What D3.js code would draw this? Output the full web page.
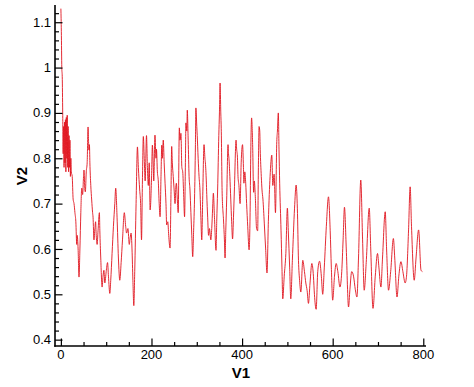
<!DOCTYPE html>
<html>
<head>
<meta charset="utf-8">
<script src="https://cdn.jsdelivr.net/npm/d3@7"></script>
<style>
  body { margin: 0; background: #fff; }
  .tick-label { font-family: "Liberation Sans", Arial, sans-serif; font-size: 13px; fill: #000; }
  .axis-title { font-family: "Liberation Sans", Arial, sans-serif; font-size: 15px; font-weight: bold; fill: #000; }
</style>
</head>
<body>
<div id="chart"></div>
<script>
// V1 positions (at peaks / troughs)
const v1 = [
  0, 1, 2, 3, 4, 5, 6, 7, 8, 9, 10, 11, 12, 13, 14, 15, 16, 17, 18, 19, 20, 21, 22, 23,
  25, 27, 29, 31, 33, 35, 36, 38, 40, 42, 44, 46, 48, 50, 51, 53, 54, 56, 58, 60, 61, 62, 63, 64,
  66, 68, 70, 71, 73, 75, 76.6, 78, 80, 82, 85, 86, 88, 91, 93, 95, 97, 100, 103, 105, 108, 110,
  113, 116, 119, 121, 124, 127, 130, 133, 136, 140, 143, 145, 148, 151, 153, 155, 157, 159, 161,
  163, 166, 169, 171, 174, 176, 178, 180, 182, 184, 186, 189, 191, 193, 195, 197, 200, 202, 204,
  205, 207.7, 210, 211, 213, 215, 217, 219, 221, 222.8, 224, 226, 228, 230, 232, 233.5, 236, 238,
  241, 243, 244.6, 246, 248, 250, 252, 254, 255, 257, 259, 261.5, 263, 265, 267, 269, 271, 273,
  275, 276, 278, 279, 281, 283, 285, 287, 289, 291, 293, 295, 297, 298, 300, 301, 303, 305, 307,
  309, 311, 313, 316, 318, 319, 321, 322, 324, 326, 328, 331, 333, 335, 336.6, 339, 342.5, 344,
  346, 348.6, 350, 351.4, 353, 354, 356, 359, 361, 362.4, 364, 366, 369, 370, 371, 373, 375, 377,
  379, 381, 383, 386.7, 388, 389.6, 391, 393, 395.6, 398, 401, 403, 404, 406, 408, 410, 412.5,
  415.5, 417.7, 419, 421, 423.3, 425.5, 427, 429, 432, 434.4, 436, 437.5, 439, 440, 442.4, 444,
  446, 449, 452, 455, 458, 460, 461.8, 465.6, 467.8, 470.7, 473.7, 476.6, 478, 480, 481.5, 483,
  486, 488, 489.8, 493, 496.6, 500, 502, 505, 507.5, 511, 515.8, 519.3, 522, 524.5, 527, 529.7,
  534, 537.7, 540.7, 543.6, 546.5, 550, 554, 557.5, 559.7, 563.5, 567, 571, 575, 578, 581.5, 586,
  590.7, 594.5, 597, 600, 604, 607.7, 611.4, 616, 620, 623, 626, 630, 635, 638, 642, 646, 650,
  653.5, 657, 662, 666, 669.6, 674, 680.7, 684, 689, 694, 699, 702, 706.5, 710, 716, 719, 723.3,
  728, 734, 737, 742, 746, 750.7, 755, 760, 763, 767.5, 771, 774, 780, 784, 789.7, 795, 798
];

// V2 values matching v1
const v2 = [
  1.13, 1.08, 1.00, 0.98, 0.90, 0.81, 0.87, 0.78, 0.88, 0.79, 0.885, 0.77, 0.89, 0.80, 0.895, 0.78,
  0.87, 0.77, 0.85, 0.78, 0.84, 0.76, 0.80, 0.77,
  0.76, 0.71, 0.70, 0.68, 0.66, 0.61, 0.63, 0.60, 0.538, 0.60, 0.68, 0.734, 0.72, 0.76, 0.774, 0.73,
  0.726, 0.77, 0.79, 0.869, 0.84, 0.818, 0.83, 0.79,
  0.74, 0.708, 0.68, 0.67, 0.62, 0.645, 0.66, 0.63, 0.61, 0.64, 0.68, 0.64, 0.58, 0.516, 0.54, 0.553,
  0.525, 0.55, 0.57, 0.54, 0.502, 0.53,
  0.59, 0.65, 0.70, 0.734, 0.67, 0.58, 0.531, 0.57, 0.62, 0.68, 0.65, 0.635, 0.645, 0.61, 0.625,
  0.635, 0.60, 0.53, 0.475,
  0.55, 0.70, 0.825, 0.78, 0.73, 0.70, 0.62, 0.75, 0.848, 0.80, 0.75, 0.85, 0.78, 0.74, 0.79, 0.686,
  0.752, 0.829, 0.78,
  0.75, 0.851, 0.80, 0.82, 0.77, 0.75, 0.70, 0.671, 0.76, 0.829, 0.80, 0.84, 0.79, 0.745, 0.70,
  0.653, 0.66, 0.63,
  0.602, 0.72, 0.826, 0.79, 0.76, 0.73, 0.70, 0.74, 0.745, 0.71, 0.68, 0.867, 0.84, 0.855, 0.78,
  0.77, 0.72, 0.671,
  0.80, 0.878, 0.86, 0.906, 0.84, 0.76, 0.73, 0.68, 0.63, 0.583, 0.64, 0.71, 0.83, 0.911, 0.87,
  0.85, 0.80, 0.76, 0.73,
  0.67, 0.62, 0.71, 0.83, 0.80, 0.79, 0.75, 0.72, 0.67, 0.63, 0.645, 0.62, 0.645, 0.69, 0.723,
  0.67, 0.597, 0.66,
  0.73, 0.85, 0.90, 0.966, 0.90, 0.865, 0.723, 0.664, 0.62, 0.58, 0.64, 0.71, 0.83, 0.81, 0.80,
  0.76, 0.71, 0.66,
  0.622, 0.67, 0.73, 0.84, 0.82, 0.805, 0.76, 0.74, 0.70, 0.79, 0.83, 0.78, 0.745, 0.77, 0.745,
  0.70, 0.649,
  0.598, 0.68, 0.80, 0.889, 0.83, 0.725, 0.75, 0.72, 0.645, 0.64, 0.78, 0.87, 0.86, 0.82, 0.76, 0.73,
  0.71, 0.657, 0.60, 0.547, 0.66, 0.72, 0.76, 0.807, 0.74, 0.765, 0.68, 0.837, 0.86, 0.90, 0.82, 0.745,
  0.64, 0.56, 0.49, 0.54, 0.59, 0.69, 0.64, 0.56, 0.49, 0.575, 0.69, 0.741, 0.69, 0.575, 0.53, 0.505,
  0.575, 0.55, 0.525, 0.508, 0.48, 0.525, 0.568, 0.54, 0.50, 0.467, 0.55, 0.573, 0.54, 0.50, 0.56, 0.65,
  0.715, 0.64, 0.56, 0.487, 0.54, 0.568, 0.55, 0.516, 0.55, 0.62, 0.692, 0.60, 0.472, 0.51, 0.55, 0.54, 0.51,
  0.494, 0.58, 0.752, 0.62, 0.509, 0.57, 0.69, 0.60, 0.469, 0.54, 0.59, 0.56, 0.516, 0.58, 0.682, 0.60, 0.509,
  0.55, 0.623, 0.58, 0.494, 0.54, 0.572, 0.55, 0.525, 0.54, 0.642, 0.737, 0.65, 0.531, 0.58, 0.642, 0.553, 0.55
];

const xTicks = [0, 200, 400, 600, 800];
const yTicks = [0.4, 0.5, 0.6, 0.7, 0.8, 0.9, 1, 1.1];

const W = 474, H = 387;
const plot = { left: 55, right: 426, top: 5, bottom: 346 };

const svg = d3.select('#chart').append('svg')
    .attr('width', W)
    .attr('height', H);

const x = d3.scaleLinear().domain([-13, 806]).range([plot.left, plot.right]);
const y = d3.scaleLinear().domain([0.386, 1.138]).range([plot.bottom, plot.top]);

const data = v1.map((d, i) => ({ x: d, y: v2[i] }));

// the series line
svg.append('path')
    .datum(data)
    .attr('fill', 'none')
    .attr('stroke', '#e0141e')
    .attr('stroke-width', 0.9)
    .attr('d', d3.line().x(d => x(d.x)).y(d => y(d.y)).curve(d3.curveMonotoneX));

// bottom axis, ticks pointing inward
const xAxis = svg.append('g').attr('transform', `translate(0,${plot.bottom})`);
xAxis.call(d3.axisTop(x).tickValues(d3.range(0, 801, 50)).tickSize(4).tickFormat(''));
xAxis.selectAll('.tick').filter(d => d % 200 === 0).select('line').attr('y2', -7.5);
xAxis.select('.domain').remove();
xAxis.selectAll('line').attr('stroke', '#000').attr('stroke-width', 1.2);

xTicks.forEach(t => {
  svg.append('text').attr('class', 'tick-label')
      .attr('x', x(t)).attr('y', plot.bottom + 13)
      .attr('text-anchor', 'middle')
      .text(t);
});

// left axis, ticks pointing inward
const yAxis = svg.append('g').attr('transform', `translate(${plot.left},0)`);
yAxis.call(d3.axisRight(y).tickValues(d3.range(0.4, 1.131, 0.02)).tickSize(4).tickFormat(''));
yAxis.selectAll('.tick').filter(d => Math.abs(d * 10 - Math.round(d * 10)) < 1e-6).select('line').attr('x2', 7.5);
yAxis.select('.domain').remove();
yAxis.selectAll('line').attr('stroke', '#000').attr('stroke-width', 1.2);

yTicks.forEach(t => {
  svg.append('text').attr('class', 'tick-label')
      .attr('x', plot.left - 4).attr('y', y(t))
      .attr('dy', '0.35em')
      .attr('text-anchor', 'end')
      .text(t);
});

// axis lines
svg.append('line').attr('x1', plot.left).attr('x2', plot.left).attr('y1', plot.top).attr('y2', plot.bottom + 0.75)
    .attr('stroke', '#000').attr('stroke-width', 1.6);
svg.append('line').attr('x1', plot.left - 0.75).attr('x2', plot.right).attr('y1', plot.bottom).attr('y2', plot.bottom)
    .attr('stroke', '#000').attr('stroke-width', 1.6);

// axis titles
svg.append('text').attr('class', 'axis-title')
    .attr('x', 241).attr('y', 378)
    .attr('text-anchor', 'middle')
    .text('V1');

svg.append('text').attr('class', 'axis-title')
    .attr('transform', 'translate(27,176) rotate(-90)')
    .attr('text-anchor', 'middle')
    .text('V2');
</script>
</body>
</html>
